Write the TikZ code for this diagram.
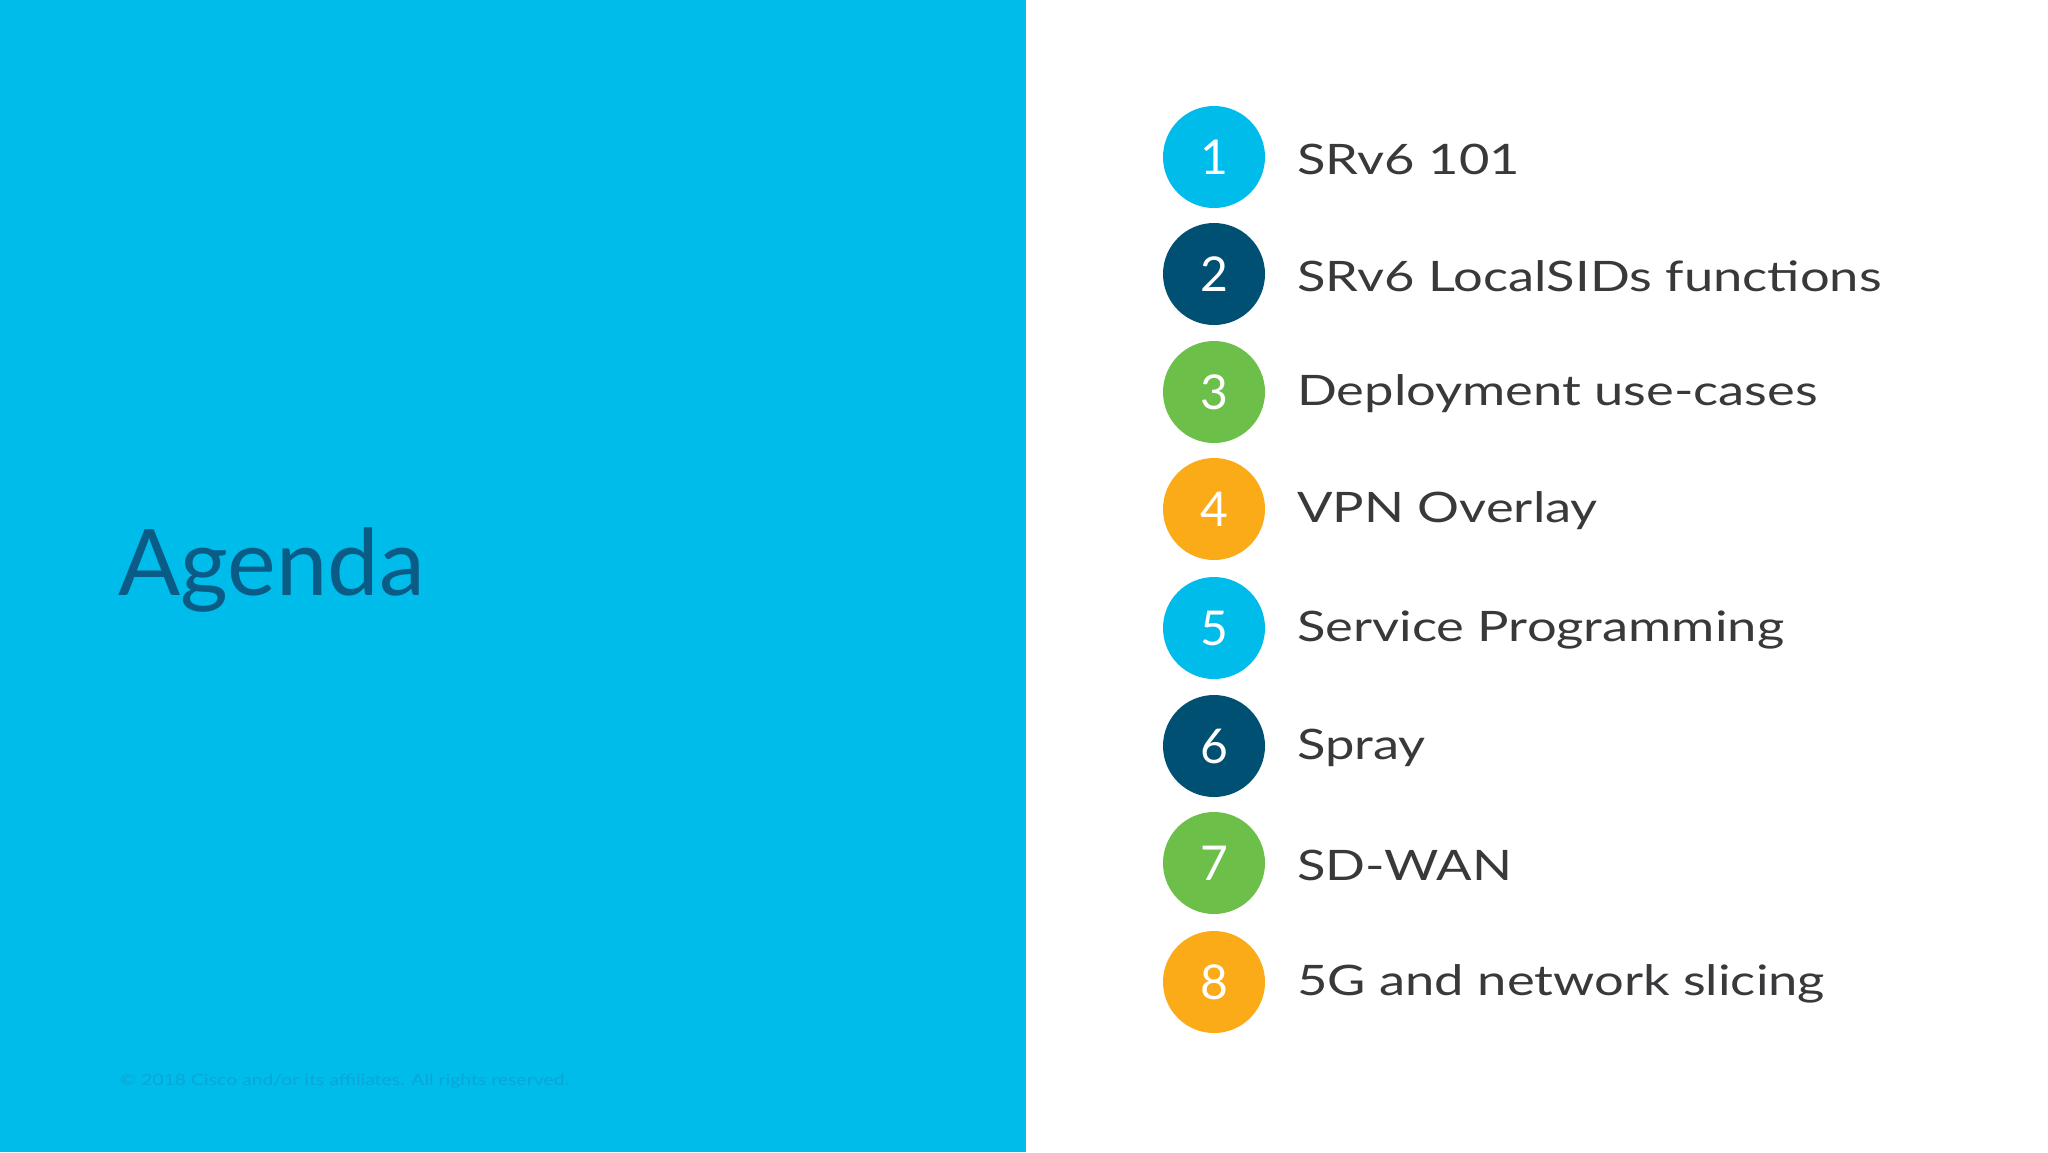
\documentclass[tikz,border=0pt]{standalone}
\usepackage{fontspec}
\setmainfont{Lato}
\newfontfamily\widefont{Lato}[FakeStretch=1.25]
\definecolor{cblue}{HTML}{00BCEB}
\definecolor{cdark}{HTML}{005073}
\definecolor{cgreen}{HTML}{6CC04A}
\definecolor{corange}{HTML}{FBAB18}
\definecolor{ctitle}{HTML}{0A5C86}
\definecolor{ctext}{HTML}{39393B}
\definecolor{cfoot}{HTML}{0AA6D6}
\begin{document}
\begin{tikzpicture}[x=1pt,y=-1pt,
  num/.style={circle,fill=#1,minimum size=102pt,inner sep=0pt,text=white,font=\fontsize{48}{48}\selectfont},
  item/.style={anchor=west,text=ctext,font=\widefont\fontsize{42}{42}\selectfont,inner sep=0pt}]
\useasboundingbox (0,0) rectangle (2048,1152);
\fill[white] (0,0) rectangle (2048,1152);
\fill[cblue] (0,0) rectangle (1026,1152);
\node[anchor=west,inner sep=0pt,text=ctitle,font=\fontsize{92}{92}\selectfont] (title) at (118,570) {Agenda};
\node[anchor=west,inner sep=0pt,text=cfoot,font=\widefont\fontsize{15.5}{15.5}\selectfont] (foot) at (120,1081) {© 2018  Cisco and/or its affiliates. All rights reserved.};
\foreach \i/\y/\c/\t in {1/157/cblue/SRv6 101,2/274/cdark/SRv6 LocalSIDs functions,3/392/cgreen/Deployment use-cases,4/509/corange/VPN Overlay,5/628/cblue/Service Programming,6/746/cdark/Spray,7/863/cgreen/SD-WAN,8/982/corange/5G and network slicing}{
  \node[num=\c] (n\i) at (1214,\y) {\i};
  \node[item] (t\i) at (1297,\y+2) {\t};
}
\end{tikzpicture}
\end{document}
